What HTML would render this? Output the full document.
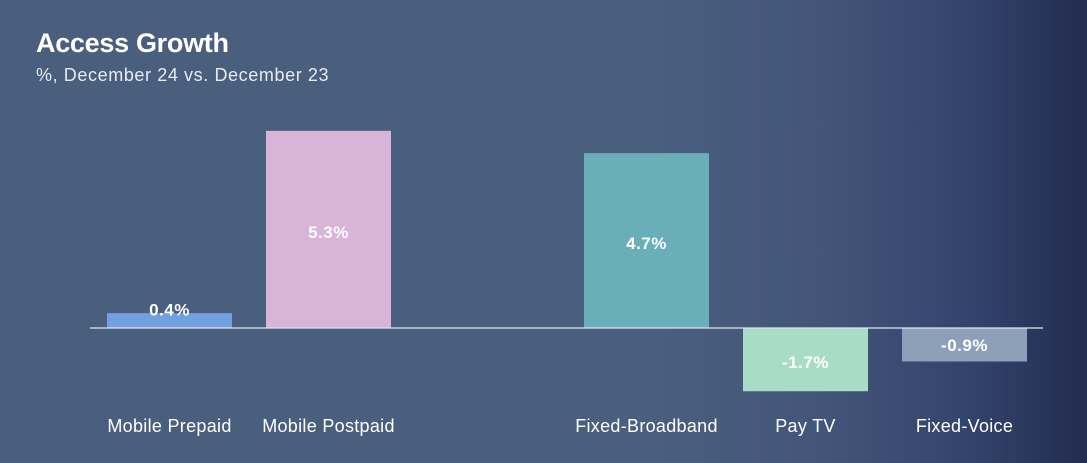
<!DOCTYPE html>
<html><head><meta charset="utf-8"><style>
html,body{margin:0;padding:0}
body{width:1087px;height:463px;overflow:hidden;font-family:"Liberation Sans",sans-serif;
background:linear-gradient(90deg,#4a5e7e 0%,#4a5e7e 60%,#43567a 75%,#33426a 90%,#222c50 100%);position:relative}
.t{position:absolute;color:#fff}
</style></head><body>
<div class="t" style="left:36px;top:28px;font-size:27px;font-weight:bold;letter-spacing:-0.3px">Access Growth</div>
<div class="t" style="left:36px;top:65px;font-size:18px;letter-spacing:0.6px;color:#e8ecf2">%, December 24 vs. December 23</div>
<svg id="c" width="1087" height="463" style="position:absolute;left:0;top:0"></svg>
<script>
const categories=["Mobile Prepaid","Mobile Postpaid","","Fixed-Broadband","Pay TV","Fixed-Voice"];
const values=[0.4,5.3,null,4.7,-1.7,-0.9];
const valueLabels=["0.4%","5.3%","","4.7%","-1.7%","-0.9%"];
const colors=["#70a0e0","#d8b4d8","","#6aaeba","#a8dcc4","#8ea0b8"];
const svg=document.getElementById('c');const NS="http://www.w3.org/2000/svg";
const x0=90,slot=159,barW=125,base=328,ppu=37.2;
const y=v=>base-v*ppu;
function mk(t,a){const e=document.createElementNS(NS,t);for(const k in a)e.setAttribute(k,a[k]);svg.appendChild(e);return e;}
categories.forEach((c,i)=>{
 if(values[i]===null)return;
 const cx=x0+slot*i+slot/2,v=values[i];
 const r=mk('rect',{x:cx-barW/2,y:Math.min(y(v),base),width:barW,height:Math.abs(y(v)-base),fill:colors[i]});
 
 
 const ly=v>=0?(Math.abs(v)<1?y(v)-2:(y(v)+base)/2+4):(base+y(v))/2+(Math.abs(v)<1?2:4);
 const l=mk('text',{x:cx,y:ly,'text-anchor':'middle','dominant-baseline':'middle',fill:'#fff','font-size':17,'font-weight':'bold','letter-spacing':'0.5','font-family':'Liberation Sans, sans-serif'});
 l.textContent=valueLabels[i];
 
 
 const t=mk('text',{x:cx,y:432,'text-anchor':'middle',fill:'#fff','font-size':18,'letter-spacing':'0.3','font-family':'Liberation Sans, sans-serif'});
 t.textContent=c;
 
 
});
const ax=mk('line',{x1:x0,x2:1043,y1:base,y2:base,stroke:'#dfe5ee','stroke-width':1.2});


</script>
</body></html>
